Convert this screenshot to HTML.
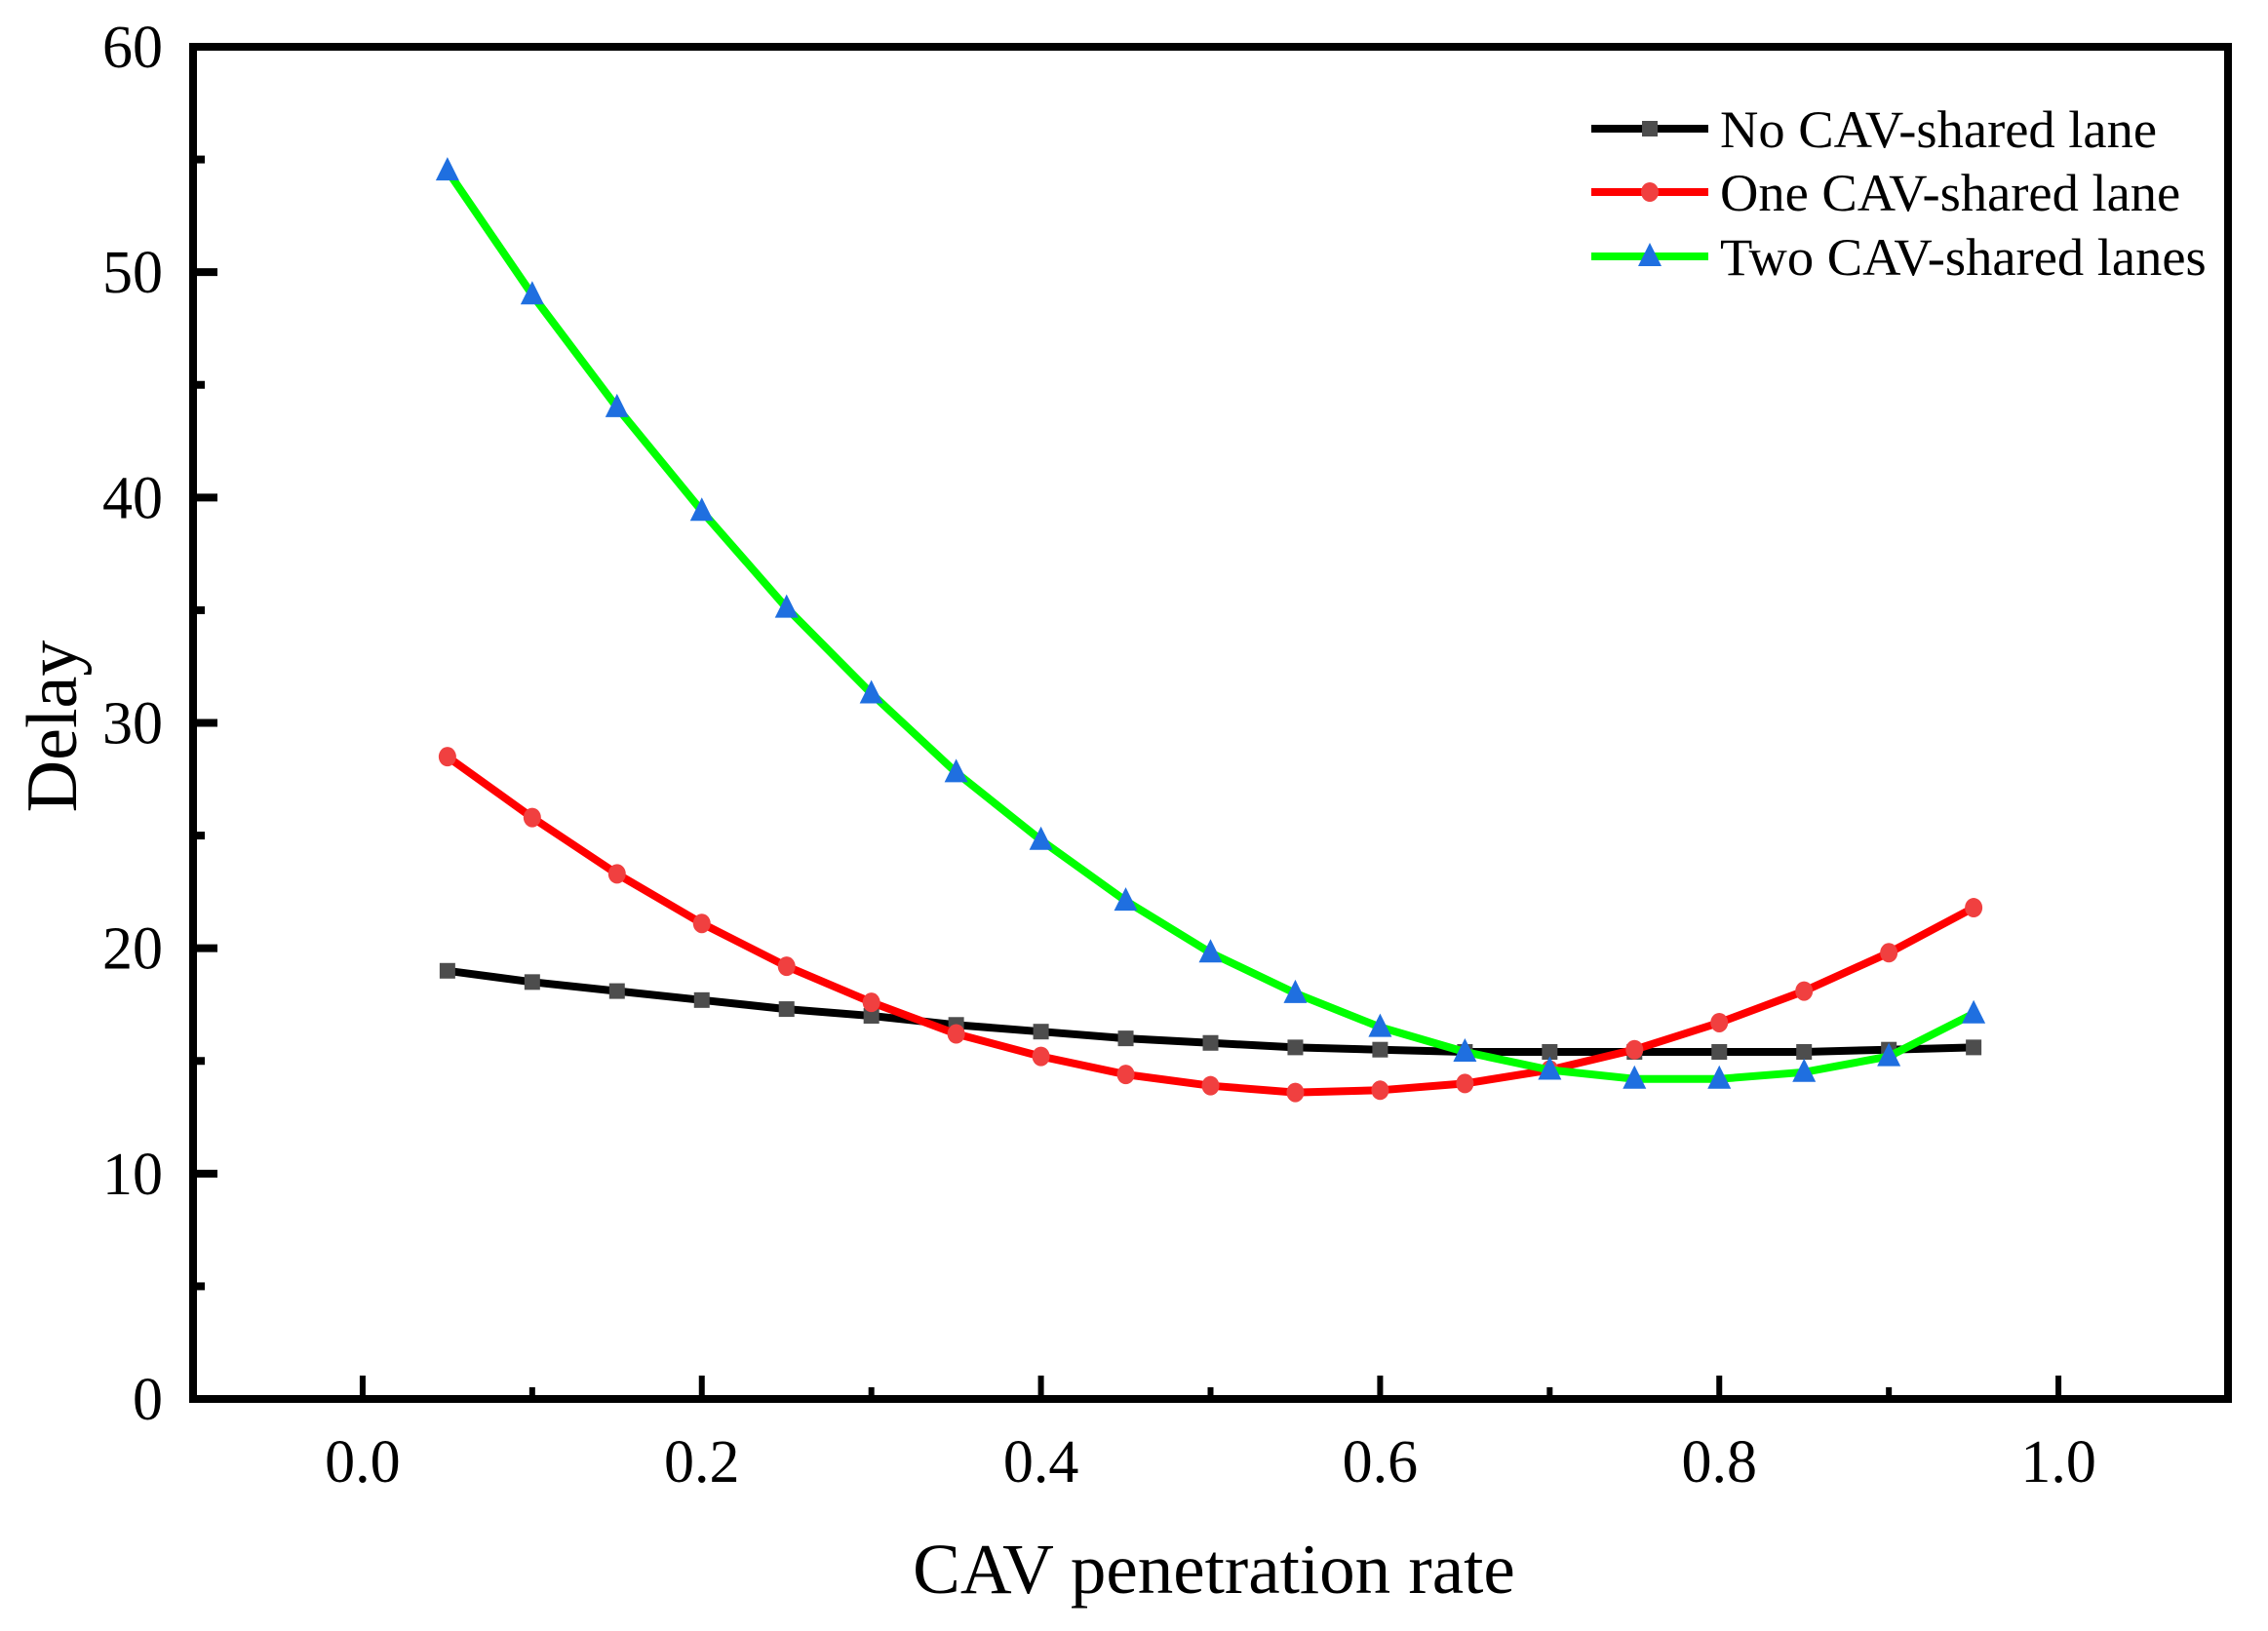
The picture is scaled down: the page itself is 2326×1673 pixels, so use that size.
<!DOCTYPE html>
<html><head><meta charset="utf-8"><style>
html,body{margin:0;padding:0;background:#fff;}
svg{display:block;}
text{font-family:"Liberation Serif",serif;fill:#000;}
</style></head><body>
<svg id="s" width="2326" height="1673" viewBox="0 0 2326 1673" xmlns="http://www.w3.org/2000/svg"></svg>
<script>
const s=document.getElementById('s');
const L=198,R=2285,T=48,B=1435;
const X=v=>L+(v+0.1)/1.2*(R-L), Y=v=>B-v/60*(B-T);
let h='';
const xs=[];for(let i=1;i<=19;i++)xs.push(i*0.05);
const k=[19.0,18.5,18.1,17.7,17.3,17.0,16.6,16.3,16.0,15.8,15.6,15.5,15.4,15.4,15.4,15.4,15.4,15.5,15.6];
const r=[28.5,25.8,23.3,21.1,19.2,17.6,16.2,15.2,14.4,13.9,13.6,13.7,14.0,14.6,15.5,16.7,18.1,19.8,21.8];
const g=[54.5,49.0,44.0,39.4,35.1,31.3,27.8,24.8,22.1,19.8,18.0,16.5,15.4,14.6,14.2,14.2,14.5,15.2,17.1];
function sq(x,y){return `<rect x="${x-8}" y="${y-8}" width="16" height="16" fill="#4d4d4d"/>`}
function ci(x,y){return `<ellipse cx="${x}" cy="${y}" rx="9" ry="10" fill="#f04040"/>`}
function tr(x,y){return `<polygon points="${x},${y-14} ${x-12},${y+10} ${x+12},${y+10}" fill="#1f6fe0"/>`}
function series(d,col,m){
 const p=xs.map((x,i)=>X(x).toFixed(1)+','+Y(d[i]).toFixed(1)).join(' ');
 h+=`<polyline points="${p}" fill="none" stroke="${col}" stroke-width="8" stroke-linejoin="round"/>`;
 xs.forEach((x,i)=>h+=m(X(x),Y(d[i])));
}
series(k,'#000',sq);series(r,'#ff0000',ci);series(g,'#00ff00',tr);
h+=`<rect x="${L}" y="${T}" width="${R-L}" height="${B-T}" fill="none" stroke="#000" stroke-width="8"/>`;
for(let v=0;v<=60;v+=5){
 const y=Y(v),len=v%10==0?25:12;
 h+=`<line x1="${L}" y1="${y}" x2="${L+len}" y2="${y}" stroke="#000" stroke-width="8"/>`;
 if(v%10==0)h+=`<text x="167" y="${y+21}" font-size="62" text-anchor="end">${v}</text>`;
}
for(let i=0;i<=10;i++){
 const v=i*0.1,x=X(v),len=i%2==0?24:12;
 h+=`<line x1="${x}" y1="${B}" x2="${x}" y2="${B-len}" stroke="#000" stroke-width="6"/>`;
 if(i%2==0)h+=`<text x="${x}" y="1520" font-size="62" text-anchor="middle">${v.toFixed(1)}</text>`;
}
h+=`<text x="1245" y="1634" font-size="73" text-anchor="middle">CAV penetration rate</text>`;
h+=`<text transform="translate(78,745) rotate(-90)" font-size="74" text-anchor="middle">Delay</text>`;
const lg=[['No CAV-shared lane','#000',sq,132],['One CAV-shared lane','#ff0000',ci,197],['Two CAV-shared lanes','#00ff00',tr,263]];
lg.forEach(([t,c,m,y])=>{
 h+=`<line x1="1632" y1="${y}" x2="1752" y2="${y}" stroke="${c}" stroke-width="8"/>`+m(1692,y);
 h+=`<text x="1764" y="${y+19}" font-size="54.5">${t}</text>`;
});
s.innerHTML=h;
</script>
</body></html>
